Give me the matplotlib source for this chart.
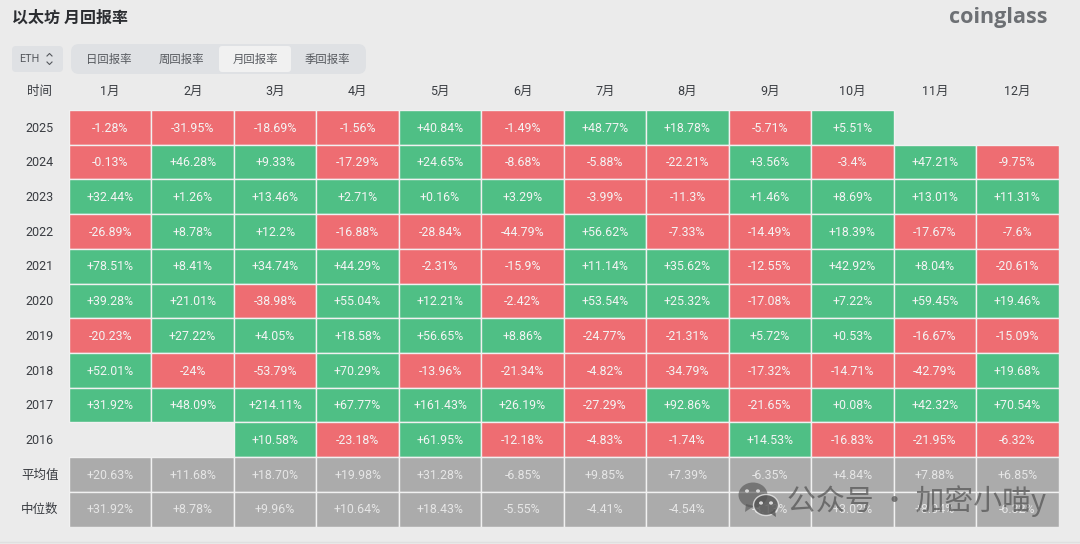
import matplotlib
matplotlib.use("Agg")
import matplotlib.pyplot as plt
from matplotlib.patches import Rectangle, FancyBboxPatch, Ellipse, Polygon

FONTS = ["Roboto", "Noto Sans CJK SC", "DejaVu Sans"]
plt.rcParams["font.family"] = FONTS

months = ["1月", "2月", "3月", "4月", "5月", "6月", "7月", "8月", "9月", "10月", "11月", "12月"]
row_labels = ["2025", "2024", "2023", "2022", "2021", "2020", "2019", "2018", "2017", "2016", "平均值", "中位数"]
tabs = ["日回报率", "周回报率", "月回报率", "季回报率"]

y2025 = ["-1.28%", "-31.95%", "-18.69%", "-1.56%", "+40.84%", "-1.49%", "+48.77%", "+18.78%", "-5.71%", "+5.51%", None, None]
y2024 = ["-0.13%", "+46.28%", "+9.33%", "-17.29%", "+24.65%", "-8.68%", "-5.88%", "-22.21%", "+3.56%", "-3.4%", "+47.21%", "-9.75%"]
y2023 = ["+32.44%", "+1.26%", "+13.46%", "+2.71%", "+0.16%", "+3.29%", "-3.99%", "-11.3%", "+1.46%", "+8.69%", "+13.01%", "+11.31%"]
y2022 = ["-26.89%", "+8.78%", "+12.2%", "-16.88%", "-28.84%", "-44.79%", "+56.62%", "-7.33%", "-14.49%", "+18.39%", "-17.67%", "-7.6%"]
y2021 = ["+78.51%", "+8.41%", "+34.74%", "+44.29%", "-2.31%", "-15.9%", "+11.14%", "+35.62%", "-12.55%", "+42.92%", "+8.04%", "-20.61%"]
y2020 = ["+39.28%", "+21.01%", "-38.98%", "+55.04%", "+12.21%", "-2.42%", "+53.54%", "+25.32%", "-17.08%", "+7.22%", "+59.45%", "+19.46%"]
y2019 = ["-20.23%", "+27.22%", "+4.05%", "+18.58%", "+56.65%", "+8.86%", "-24.77%", "-21.31%", "+5.72%", "+0.53%", "-16.67%", "-15.09%"]
y2018 = ["+52.01%", "-24%", "-53.79%", "+70.29%", "-13.96%", "-21.34%", "-4.82%", "-34.79%", "-17.32%", "-14.71%", "-42.79%", "+19.68%"]
y2017 = ["+31.92%", "+48.09%", "+214.11%", "+67.77%", "+161.43%", "+26.19%", "-27.29%", "+92.86%", "-21.65%", "+0.08%", "+42.32%", "+70.54%"]
y2016 = [None, None, "+10.58%", "-23.18%", "+61.95%", "-12.18%", "-4.83%", "-1.74%", "+14.53%", "-16.83%", "-21.95%", "-6.32%"]
mean_row = ["+20.63%", "+11.68%", "+18.70%", "+19.98%", "+31.28%", "-6.85%", "+9.85%", "+7.39%", "-6.35%", "+4.84%", "+7.88%", "+6.85%"]
median_row = ["+31.92%", "+8.78%", "+9.96%", "+10.64%", "+18.43%", "-5.55%", "-4.41%", "-4.54%", "-3.13%", "+3.02%", "+8.04%", "-6.32%"]

rows = [y2025, y2024, y2023, y2022, y2021, y2020, y2019, y2018, y2017, y2016, mean_row, median_row]

BG = "#ebebeb"
RED = "#ee6d72"
GREEN = "#4fbf85"
GRAY = "#ababab"
DARK = "#3a3d42"
W, H = 1080, 544

fig = plt.figure(figsize=(W / 100, H / 100), dpi=100, facecolor=BG)

# page axes in pixels, for the header and the watermark
page = fig.add_axes([0, 0, 1, 1], zorder=1)
page.set_xlim(0, W)
page.set_ylim(H, 0)
page.axis("off")
page.patch.set_alpha(0)

# heatmap axes: one unit per cell
left, right, top, bottom = 69, 1058.5, 110, 526.5
ax = fig.add_axes([left / W, 1 - bottom / H, (right - left) / W, (bottom - top) / H], zorder=0)
ax.set_xlim(0, len(months))
ax.set_ylim(len(rows), 0)
ax.axis("off")

for r, row in enumerate(rows):
    for c, val in enumerate(row):
        if val is None:
            continue
        if r >= 10:
            color = GRAY
            tcolor = "#e6e6e6"
        else:
            color = GREEN if val.startswith("+") else RED
            tcolor = "#f4f4f4"
        ax.add_patch(Rectangle((c, r), 1, 1, facecolor=color, edgecolor="#f1f1f1", linewidth=1.0))
        ax.text(c + 0.5, r + 0.52, val, ha="center", va="center", fontsize=8.9, color=tcolor)

col_w = (right - left) / len(months)
row_h = (bottom - top) / len(rows)
for c, m in enumerate(months):
    page.text(left + (c + 0.5) * col_w, 91.5, m, ha="center", va="center", fontsize=9, color=DARK)
page.text(40, 91.5, "时间", ha="center", va="center", fontsize=9, color=DARK)
for r, lab in enumerate(row_labels):
    page.text(40, top + (r + 0.52) * row_h, lab, ha="center", va="center", fontsize=9, color=DARK)

# title and logo
page.text(12, 18, "以太坊 月回报率", ha="left", va="center", fontsize=11.5, fontweight="bold", color="#2b2d31")
page.text(1048, 17, "coinglass", ha="right", va="center", fontsize=15.5, fontweight="bold",
          color="#6d7074", family=["Open Sans", "DejaVu Sans"])

# selector and tabs
page.add_patch(FancyBboxPatch((12, 46), 51, 26, boxstyle="round,pad=0,rounding_size=4", fc="#dfe1e4", ec="none"))
page.text(29, 59.5, "ETH", ha="center", va="center", fontsize=7.8, color="#55585d")
page.plot([47, 49.5, 52], [56, 53.5, 56], color="#55585d", lw=0.8)
page.plot([47, 49.5, 52], [62, 64.5, 62], color="#55585d", lw=0.8)
page.add_patch(FancyBboxPatch((71, 44), 295, 30, boxstyle="round,pad=0,rounding_size=8", fc="#dfe1e4", ec="none"))
page.add_patch(FancyBboxPatch((219, 46), 72, 26, boxstyle="round,pad=0,rounding_size=3", fc="#f1f1f1", ec="none"))
for x, t in zip([109, 181, 255, 327], tabs):
    page.text(x, 59.5, t, ha="center", va="center", fontsize=8.2, color="#55585d")

# bottom edge of the card
page.plot([0, W], [541.5, 541.5], color="#e0e0e0", lw=1)

# wechat watermark
wm = "#555555"
page.add_patch(Ellipse((753, 495), 29, 25, fc=wm, ec="none", alpha=0.62))
page.add_patch(Polygon([[746, 504], [745, 512], [754, 506]], fc=wm, ec="none", alpha=0.62))
page.add_patch(Ellipse((766, 505), 25, 21, fc=wm, ec=BG, lw=1, alpha=0.8))
page.add_patch(Polygon([[770, 513], [776, 517], [775, 509]], fc=wm, ec="none", alpha=0.8))
for x, y in [(747, 491), (758, 491), (761, 503), (771, 503)]:
    page.add_patch(Ellipse((x, y), 4, 3.4, fc="#d8d8d8", ec="none"))
page.text(787, 501, "公众号 · 加密小喵y", ha="left", va="center", fontsize=20.8, color="#4d4d4d", alpha=0.68,
          family=["Noto Sans CJK SC", "DejaVu Sans"])

fig.savefig("out.png", dpi=100, facecolor=BG)
